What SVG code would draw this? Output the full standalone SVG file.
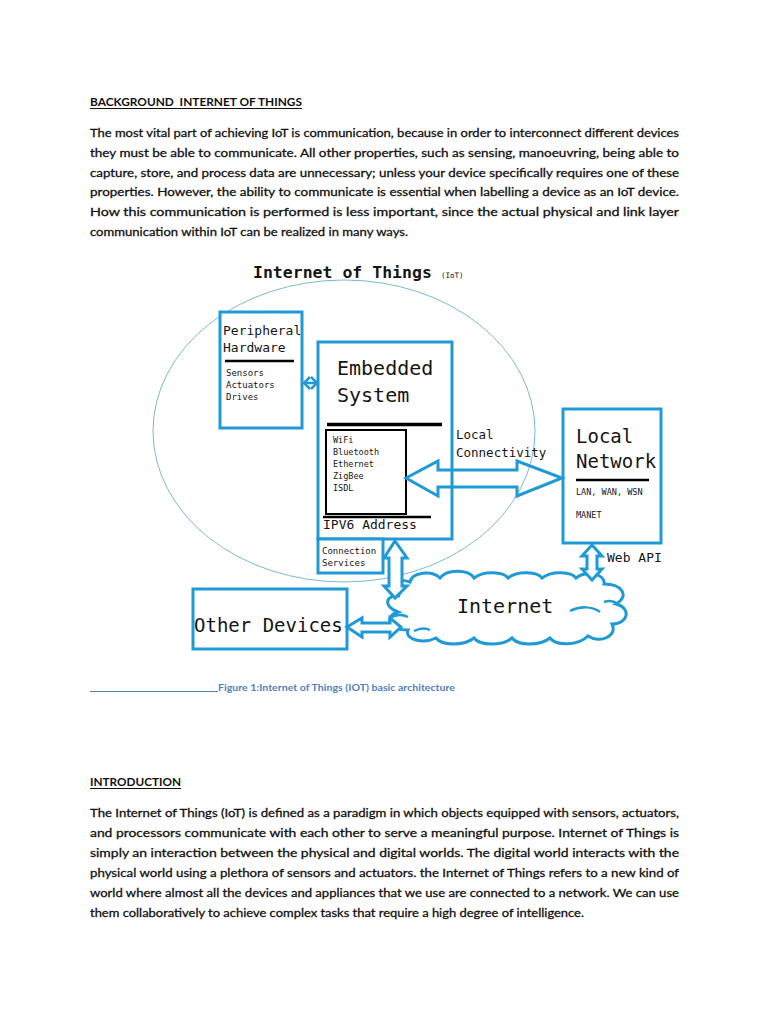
<svg xmlns="http://www.w3.org/2000/svg" width="768" height="1024" viewBox="0 0 768 1024">
<style>
.body{font-family:Lato,"Liberation Sans",sans-serif;font-size:12px;fill:#111;stroke:#111;stroke-width:0.3}
.head{font-family:Lato,"Liberation Sans",sans-serif;font-size:12px;font-weight:bold;fill:#111}
.mono{font-family:"DejaVu Sans Mono","Liberation Mono",monospace;fill:#151515}
.box{fill:#fff;stroke:#1f9ad6;stroke-width:3}
.arrow{fill:#fff;stroke:#1f9ad6;stroke-width:3;stroke-linejoin:miter}
.bar{stroke:#000;stroke-width:2.5}
.cap{font-family:Lato,"Liberation Sans",sans-serif;font-size:10px;font-weight:bold;fill:#4f81bd}
</style>
<rect width="768" height="1024" fill="#fff"/>

<!-- Top text -->
<text class="head" x="90" y="106" textLength="212" lengthAdjust="spacingAndGlyphs">BACKGROUND&#160; INTERNET OF THINGS</text>
<line x1="90" y1="108.5" x2="302" y2="108.5" stroke="#111" stroke-width="1"/>
<g class="body">
<text x="90" y="137" textLength="589" lengthAdjust="spacingAndGlyphs">The most vital part of achieving IoT is communication, because in order to interconnect different devices</text>
<text x="90" y="157" textLength="589" lengthAdjust="spacingAndGlyphs">they must be able to communicate. All other properties, such as sensing, manoeuvring, being able to</text>
<text x="90" y="176.5" textLength="589" lengthAdjust="spacingAndGlyphs">capture, store, and process data are unnecessary; unless your device specifically requires one of these</text>
<text x="90" y="196" textLength="589" lengthAdjust="spacingAndGlyphs">properties. However, the ability to communicate is essential when labelling a device as an IoT device.</text>
<text x="90" y="216" textLength="589" lengthAdjust="spacingAndGlyphs">How this communication is performed is less important, since the actual physical and link layer</text>
<text x="90" y="235.5" textLength="318" lengthAdjust="spacingAndGlyphs">communication within IoT can be realized in many ways.</text>
</g>

<!-- Diagram -->
<ellipse cx="344" cy="431" rx="191" ry="151" fill="none" stroke="#6cb2c8" stroke-width="0.9"/>
<text class="mono" x="253" y="278" font-size="16.5" font-weight="bold">Internet of Things</text>
<text class="mono" x="441" y="278" font-size="7.5">(IoT)</text>

<g id="peripheral">
<rect class="box" x="220" y="312" width="82" height="116"/>
<text class="mono" x="223" y="335" font-size="13">Peripheral</text>
<text class="mono" x="223" y="352" font-size="13">Hardware</text>
<line class="bar" x1="225" y1="361" x2="294" y2="361"/>
<text class="mono" x="226" y="376" font-size="9">Sensors</text>
<text class="mono" x="226" y="388" font-size="9">Actuators</text>
<text class="mono" x="226" y="400" font-size="9">Drives</text>
</g>

<g id="embedded">
<rect class="box" x="318" y="342" width="134" height="197" stroke-width="4"/>
<text class="mono" x="337" y="375" font-size="20">Embedded</text>
<text class="mono" x="337" y="402" font-size="20">System</text>
<line x1="327" y1="424.5" x2="442" y2="424.5" stroke="#000" stroke-width="3.5"/>
<rect x="326" y="430" width="80" height="84" fill="#fff" stroke="#000" stroke-width="2"/>
<text class="mono" x="333" y="443" font-size="8.5">WiFi</text>
<text class="mono" x="333" y="455" font-size="8.5">Bluetooth</text>
<text class="mono" x="333" y="467" font-size="8.5">Ethernet</text>
<text class="mono" x="333" y="479" font-size="8.5">ZigBee</text>
<text class="mono" x="333" y="491" font-size="8.5">ISDL</text>
<line class="bar" x1="323" y1="517" x2="431" y2="517"/>
<text class="mono" x="323" y="529" font-size="13">IPV6 Address</text>
</g>

<g id="connection-services">
<rect class="box" x="318" y="539" width="65" height="34" stroke-width="2.5"/>
<text class="mono" x="322" y="554" font-size="9">Connection</text>
<text class="mono" x="322" y="566" font-size="9">Services</text>
</g>

<g id="local-network">
<rect class="box" x="563" y="409" width="98" height="134"/>
<text class="mono" x="576" y="443" font-size="19">Local</text>
<text class="mono" x="576" y="468" font-size="19">Network</text>
<line class="bar" x1="576" y1="480" x2="649" y2="480"/>
<text class="mono" x="576" y="495" font-size="8.5">LAN, WAN, WSN</text>
<text class="mono" x="576" y="518" font-size="8.5">MANET</text>
</g>

<g id="other-devices">
<rect class="box" x="193" y="589" width="154" height="60"/>
<text class="mono" x="194" y="632" font-size="19">Other Devices</text>
</g>

<g id="internet">
<path class="box" d="M400,596 C385,590 392,576 410,582 C412,572 432,570 440,578 C448,568 470,570 474,578 C484,570 504,572 508,578 C518,570 538,572 542,578 C552,570 572,572 576,578 C586,570 606,574 604,584 C622,584 630,596 616,604 C632,608 628,624 612,624 C618,636 600,644 588,636 C578,646 556,646 550,638 C540,646 518,646 512,638 C502,646 480,646 474,638 C464,646 442,646 436,638 C424,644 404,640 408,630 C388,630 384,616 398,612 C382,606 386,594 400,596 Z"/>
<path d="M570,611 C580,606 592,606 600,612 M604,602 C610,600 614,601 618,604 M390,618 C396,614 402,614 408,617 M414,631 C420,628 426,628 430,630" fill="none" stroke="#1f9ad6" stroke-width="2.5"/>
<text class="mono" x="457" y="613" font-size="20">Internet</text>
</g>

<g id="connectors">
<polyline points="310,377 304,383 310,389" fill="none" stroke="#1f9ad6" stroke-width="2.5"/>
<polyline points="311,377 317,383 311,389" fill="none" stroke="#1f9ad6" stroke-width="2.5"/>
<line x1="304" y1="383" x2="317" y2="383" stroke="#1f9ad6" stroke-width="2.5"/>
<polygon class="arrow" style="fill:none" points="406,478 438,461 438,470 517,470 517,461 562,478 517,496 517,487 438,487 438,496"/>
<polygon class="arrow" points="395,541 407,558 402,558 402,586 407,586 395,598 384,586 389,586 389,558 384,558"/>
<polygon class="arrow" points="592,545 602,556 597,556 597,569 602,569 592,580 582,569 587,569 587,556 582,556"/>
<polygon class="arrow" points="347,627 362,618 362,623 390,623 390,618 401,627 390,637 390,632 362,632 362,637"/>
</g>
<text class="mono" x="456" y="439" font-size="12.5">Local</text>
<text class="mono" x="456" y="457" font-size="12.5">Connectivity</text>
<text class="mono" x="607" y="562" font-size="13">Web API</text>

<!-- Caption -->
<line x1="90" y1="691.5" x2="218" y2="691.5" stroke="#4f81bd" stroke-width="1"/>
<text class="cap" x="218" y="691" textLength="237" lengthAdjust="spacingAndGlyphs">Figure 1:Internet of Things (IOT) basic architecture</text>

<!-- Introduction -->
<text class="head" x="90" y="786" textLength="91" lengthAdjust="spacingAndGlyphs">INTRODUCTION</text>
<line x1="90" y1="788.5" x2="181" y2="788.5" stroke="#111" stroke-width="1"/>
<g class="body">
<text x="90" y="817" textLength="589" lengthAdjust="spacingAndGlyphs">The Internet of Things (IoT) is defined as a paradigm in which objects equipped with sensors, actuators,</text>
<text x="90" y="837" textLength="589" lengthAdjust="spacingAndGlyphs">and processors communicate with each other to serve a meaningful purpose. Internet of Things is</text>
<text x="90" y="856.5" textLength="589" lengthAdjust="spacingAndGlyphs">simply an interaction between the physical and digital worlds. The digital world interacts with the</text>
<text x="90" y="876.5" textLength="589" lengthAdjust="spacingAndGlyphs">physical world using a plethora of sensors and actuators. the Internet of Things refers to a new kind of</text>
<text x="90" y="896.5" textLength="589" lengthAdjust="spacingAndGlyphs">world where almost all the devices and appliances that we use are connected to a network. We can use</text>
<text x="90" y="916.5" textLength="494" lengthAdjust="spacingAndGlyphs">them collaboratively to achieve complex tasks that require a high degree of intelligence.</text>
</g>
</svg>
